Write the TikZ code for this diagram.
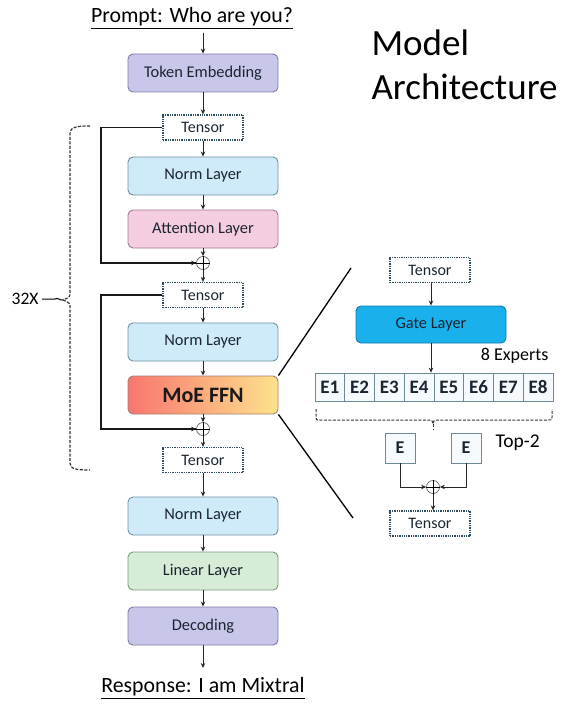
\documentclass[tikz,border=0pt]{standalone}
\usepackage{fontspec}
\setmainfont{Carlito}
\usetikzlibrary{arrows.meta,calc,positioning}
\definecolor{embfill}{HTML}{C8C6E9}
\definecolor{embdraw}{HTML}{7E7BAA}
\definecolor{normfill}{HTML}{CFEAF8}
\definecolor{normdraw}{HTML}{6E91A3}
\definecolor{attfill}{HTML}{F4CDE1}
\definecolor{attdraw}{HTML}{A27A92}
\definecolor{linfill}{HTML}{D6ECD6}
\definecolor{lindraw}{HTML}{7C9C7C}
\definecolor{gatefill}{HTML}{19B0EC}
\definecolor{gatedraw}{HTML}{1279A8}
\definecolor{moeleft}{HTML}{F8766E}
\definecolor{moeright}{HTML}{FDE28C}
\definecolor{moedraw}{HTML}{A08070}
\definecolor{tensdraw}{HTML}{2E4D5C}
\definecolor{expdraw}{HTML}{6A8A98}
\definecolor{expfill}{HTML}{F6FAFC}
\definecolor{txt}{HTML}{1A2530}
\begin{document}
\begin{tikzpicture}[x=1pt,y=-1pt,
  layer/.style={draw=#1, rounded corners=5pt, line width=0.9pt, minimum width=150pt, minimum height=38pt, inner sep=0pt, font=\fontsize{16.4}{18}\selectfont, text=txt},
  tensorbox/.style={draw=tensdraw, densely dotted, line width=1.3pt, minimum width=80pt, minimum height=25pt, inner sep=0pt, font=\fontsize{16}{18}\selectfont, text=txt},
  expert/.style={draw=expdraw, fill=expfill, line width=0.7pt, minimum width=29.75pt, minimum height=28pt, inner sep=0pt, font=\bfseries\fontsize{19}{20}\selectfont, text=txt},
  topbox/.style={draw=expdraw, fill=expfill, line width=0.7pt, minimum width=30pt, minimum height=30pt, inner sep=0pt, font=\bfseries\fontsize{18}{20}\selectfont, text=txt},
  plus/.style={circle, draw=gray!80!black, line width=0.7pt, minimum size=13pt, inner sep=0pt},
  arr/.style={-{Stealth[length=5pt,width=4.5pt]}, line width=1pt, draw=black!85},
  res/.style={line width=1.8pt, draw=black!90},
  bracket/.style={dashed, dash pattern=on 3pt off 1.5pt, line width=1.2pt, draw=black!80}
]
\useasboundingbox (0,0) rectangle (578,714);

% titles
\node[font=\fontsize{21.8}{24}\selectfont] (prompt) at (192,18) {\underline{Prompt: Who are you?}};
\node[font=\fontsize{37}{44}\selectfont, align=left, anchor=north west] (title) at (368,26) {Model\\Architecture};

% main column
\node[layer=embdraw, fill=embfill] (emb) at (203,73) {Token Embedding};
\node[tensorbox] (t1) at (203,127.5) {Tensor};
\node[layer=normdraw, fill=normfill] (n1) at (203,176) {Norm Layer};
\node[layer=attdraw, fill=attfill] (att) at (203,229) {Attention Layer};
\node[plus] (p1) at (203,263) {};
\node[tensorbox] (t2) at (203,295) {Tensor};
\node[layer=normdraw, fill=normfill] (n2) at (203,342) {Norm Layer};
\node[layer=moedraw, left color=moeleft, right color=moeright, font=\bfseries\fontsize{22}{26}\selectfont, text=black!90] (moe) at (203,395) {MoE FFN};
\node[plus] (p2) at (203,429) {};
\node[tensorbox] (t3) at (203,460) {Tensor};
\node[layer=normdraw, fill=normfill] (n3) at (203,516) {Norm Layer};
\node[layer=lindraw, fill=linfill] (lin) at (203,571) {Linear Layer};
\node[layer=embdraw, fill=embfill] (dec) at (203,626) {Decoding};
\node[font=\fontsize{21.8}{24}\selectfont] (resp) at (203,688) {\underline{Response: I am Mixtral}};

\draw (p1.north)--(p1.south) (p1.west)--(p1.east);
\draw (p2.north)--(p2.south) (p2.west)--(p2.east);

\coordinate (a0) at (203,33);
\draw[arr] (a0) -- (emb.north);
\draw[arr] (emb) -- (t1);
\draw[arr] (t1) -- (n1);
\draw[arr] (n1) -- (att);
\draw[arr] (att) -- (p1);
\draw[arr] (p1) -- (t2);
\draw[arr] (t2) -- (n2);
\draw[arr] (n2) -- (moe);
\draw[arr] (moe) -- (p2);
\draw[arr] (p2) -- (t3);
\draw[arr] (t3) -- (n3);
\draw[arr] (n3) -- (lin);
\draw[arr] (lin) -- (dec);
\coordinate (out) at (203,668);
\draw[arr] (dec) -- (out);

% residuals
\draw[res] (t1.west) -| (101,263) -- (p1.west);
\draw[res, -{Stealth[length=5pt,width=4.5pt]}] (101,263) -- (p1.west);
\draw[res] (t2.west) -| (101,429) -- (p2.west);
\draw[res, -{Stealth[length=5pt,width=4.5pt]}] (101,429) -- (p2.west);

% left bracket
\draw[bracket] (90,126) .. controls (76,126) and (70,127) .. (70,134) -- (70,292) .. controls (70,297) .. (63,300);
\draw[bracket] (63,300) .. controls (70,303) .. (70,308) -- (70,463) .. controls (70,469) and (76,470) .. (90,470);
\node[font=\fontsize{17.5}{20}\selectfont, anchor=east] (rep) at (42,299) {32X};
\draw[line width=1pt] (rep.east) -- (55,299) .. controls (58,297) and (60,301) .. (63,300);

% zoom lines
\coordinate (z1) at (351,268);
\coordinate (z2) at (353,518);
\draw[line width=1.3pt] (moe.north east) -- (z1);
\draw[line width=1.3pt] (moe.south east) -- (z2);

% right panel
\node[tensorbox] (rt1) at (430,270) {Tensor};
\node[draw=gatedraw, fill=gatefill, rounded corners=5pt, line width=0.9pt, minimum width=150pt, minimum height=37pt, inner sep=0pt, font=\fontsize{16.4}{18}\selectfont, text=txt] (gate) at (431,324.5) {Gate Layer};
\draw[arr] (rt1.south -| gate.north) -- (gate.north);
\foreach \i in {1,...,8} {
  \node[expert] (e\i) at ({315+29.75*(\i-0.5)},387) {E\i};
}
\draw[arr] (gate.south) -- (gate.south |- e1.north);
\node[font=\fontsize{18}{20}\selectfont, anchor=south east] (eight) at (552,367) {8 Experts};
\draw[bracket, line width=1pt] (316,409) -- (316,417) .. controls (316,420) .. (320,420) -- (428,420) .. controls (432,420) .. (433,424) .. controls (434,420) .. (438,420) -- (548,420) .. controls (552,420) .. (552,417) -- (552,409);
\coordinate (brk) at (433,424);
\draw[bracket, line width=1pt] (brk) -- (433,430);

\node[topbox] (el) at (400,448) {E};
\node[topbox] (er) at (466,448) {E};
\node[font=\fontsize{19.5}{22}\selectfont, anchor=west] (top2) at (492,443) {Top-2};
\node[plus] (p3) at (433,487) {};
\draw (p3.north)--(p3.south) (p3.west)--(p3.east);
\draw[arr] (el.south) |- (p3.west);
\draw[arr] (er.south) |- (p3.east);
\node[tensorbox] (rt2) at (430,523.5) {Tensor};
\draw[arr] (p3.south) -- (p3.south |- rt2.north);
\end{tikzpicture}
\end{document}
